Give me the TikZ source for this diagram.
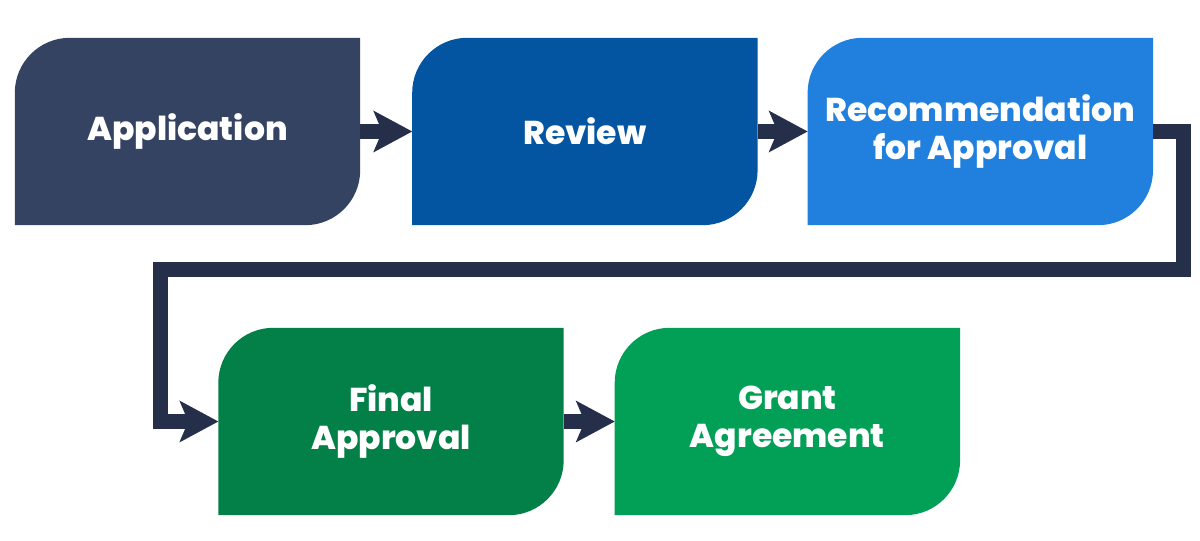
\documentclass[tikz,border=0pt]{standalone}
\usepackage{fontspec}
\setmainfont{Poppins}[BoldFont={Poppins ExtraBold}]
\usetikzlibrary{positioning,arrows.meta,backgrounds}
\definecolor{appc}{RGB}{53,67,99}
\definecolor{revc}{RGB}{4,85,161}
\definecolor{recc}{RGB}{33,128,222}
\definecolor{finc}{RGB}{3,128,71}
\definecolor{grac}{RGB}{2,159,86}
\definecolor{flowc}{RGB}{37,47,74}
\begin{document}
\begin{tikzpicture}[x=1pt,y=1pt,
    stage/.style={rectangle,inner sep=0pt,minimum width=345pt,minimum height=187pt,
      align=center,text=white,font=\fontsize{33}{38}\selectfont\bfseries},
    flow/.style={line width=15pt,flowc,-{Stealth[length=39pt,width=42pt,inset=9pt,line width=0pt]}}]
            \useasboundingbox (0,0) rectangle (1200,541);
            % Stages
            \node [stage] (app) at (187.5,409.5) {Application};
            \node [stage,right=52pt of app] (rev) {Review};
            \node [stage,right=50pt of rev] (rec) {Recommendation\\for Approval};
            \node [stage] (fin) at (391,119.5) {Final\\Approval};
            \node [stage,right=51pt of fin] (gra) {Grant\\Agreement};

            \begin{scope}[on background layer]
            \foreach \n/\c in {app/appc,rev/revc,rec/recc,fin/finc,gra/grac}
                \fill [\c] (\n.south west) -- ([yshift=-55pt]\n.north west)
                    arc [start angle=180,end angle=90,radius=55pt] -- (\n.north east)
                    -- ([yshift=55pt]\n.south east)
                    arc [start angle=0,end angle=-90,radius=55pt] -- cycle;
            \end{scope}

            % Arrows
            \coordinate (bendR) at (1183,271);
            \coordinate (bendL) at (160,271);
            \draw [flow] (app) -- (rev);
            \draw [flow] (rev) -- (rec);
            \draw [flow] (rec.east) -| (bendR) -- (bendL) |- (fin.west);
            \draw [flow] (fin) -- (gra);
        \end{tikzpicture}
\end{document}
